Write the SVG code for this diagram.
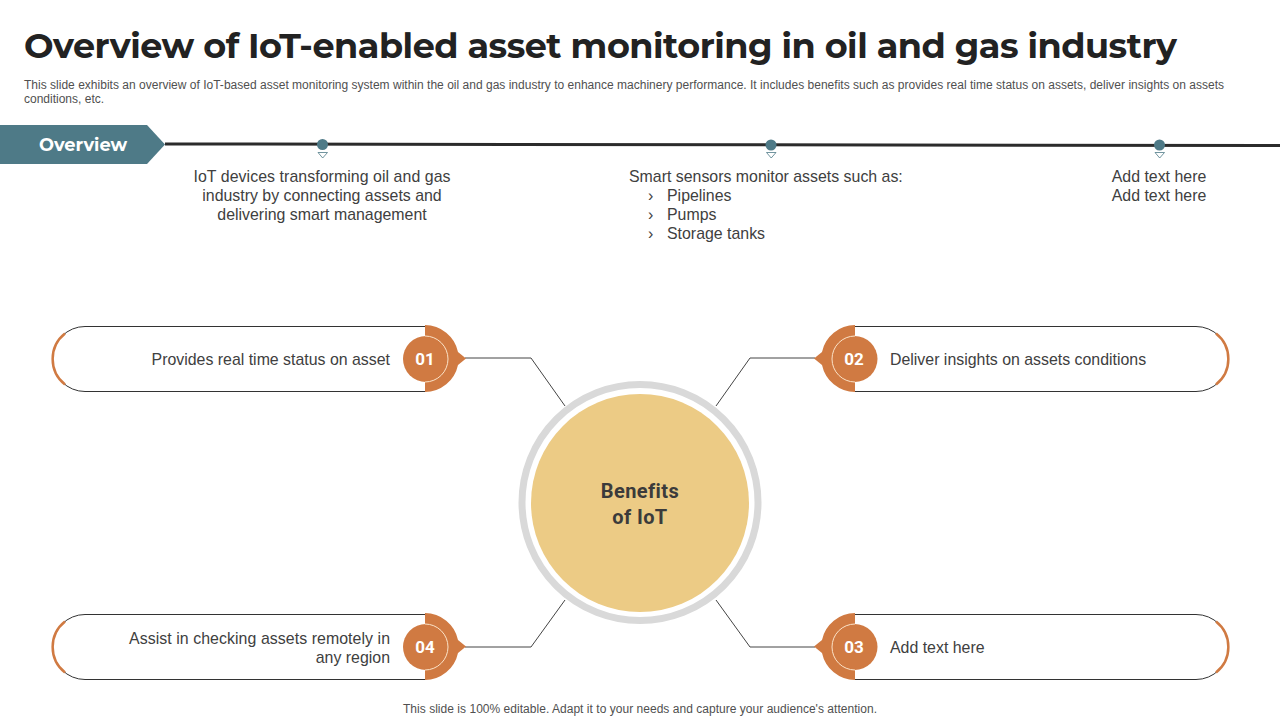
<svg xmlns="http://www.w3.org/2000/svg" width="1280" height="720" viewBox="0 0 1280 720">
<defs>
<style>
text{font-family:"Liberation Sans",Arial,sans-serif;fill:#404040;font-size:15.9px}
.title{font-family:Montserrat,"Open Sans","Liberation Sans",sans-serif;font-weight:700;font-size:35px;fill:#222}
.small{font-size:12px;fill:#505050}
.num{font-family:Roboto,"Liberation Sans",sans-serif;font-weight:700;font-size:17px;fill:#fff;text-anchor:middle}
.c{text-anchor:middle}
.e{text-anchor:end}
.pill{fill:#fff;stroke:#333;stroke-width:1}
.arc{fill:none;stroke:#d07a42;stroke-width:2.500}
.or{fill:#d07a42}
.ring{fill:none;stroke:#fbe3c8;stroke-width:1}
.conn{fill:none;stroke:#444;stroke-width:1}
.dot{fill:#4e7a87}
.tri{fill:#fff;stroke:#4e7a87;stroke-width:.8}
</style>
</defs>
<rect width="1280" height="720" fill="#fff"/>
<text class="title" x="24" y="58" textLength="1153" lengthAdjust="spacing">Overview of IoT-enabled asset monitoring in oil and gas industry</text>
<text class="small" x="24" y="89" textLength="1200">This slide exhibits an overview of IoT-based asset monitoring system within the oil and gas industry to enhance machinery performance. It includes benefits such as provides real time status on assets, deliver insights on assets</text>
<text class="small" x="24" y="103">conditions, etc.</text>

<g id="connectors">
<path d="M165 144L1280 145.500" fill="none" stroke="#2b2b2b" stroke-width="3"/>
<path class="conn" d="M465 358H531L565 406"/>
<path class="conn" d="M815 358H750L716 406"/>
<path class="conn" d="M465 647H531L565 600"/>
<path class="conn" d="M815 647H750L716 600"/>
</g>

<g id="overview">
<path d="M0 125H147L165 144.500L147 164H0Z" fill="#4e7a87"/>
<text x="83" y="150.500" class="c" style="font-family:Montserrat,'Open Sans','Liberation Sans',sans-serif;font-weight:700;font-size:17.800px;fill:#fff">Overview</text>
</g>
<g id="point1">
<circle class="dot" cx="322.500" cy="144.500" r="5.500"/><path class="tri" d="M318 152.500H327.500L322.700 158Z"/>
<text class="c" x="322" y="182" textLength="257">IoT devices transforming oil and gas</text>
<text class="c" x="322" y="201">industry by connecting assets and</text>
<text class="c" x="322" y="220">delivering smart management</text>
</g>
<g id="point2">
<circle class="dot" cx="771" cy="145" r="5.500"/><path class="tri" d="M766.500 152.500H776L771.200 158Z"/>
<text x="629" y="182">Smart sensors monitor assets such as:</text>
<text x="648" y="201">›</text><text x="667" y="201">Pipelines</text>
<text x="648" y="220">›</text><text x="667" y="220">Pumps</text>
<text x="648" y="239">›</text><text x="667" y="239">Storage tanks</text>
</g>
<g id="point3">
<circle class="dot" cx="1159.500" cy="145" r="5.500"/><path class="tri" d="M1155 152.500H1164.500L1159.700 158Z"/>
<text class="c" x="1159" y="182">Add text here</text>
<text class="c" x="1159" y="201">Add text here</text>
</g>

<g id="item01">
<path class="pill" d="M425 326.500H85A32.500 32.500 0 0 0 85 391.500H425"/>
<path class="arc" d="M65 333.500A32.500 32.500 0 0 0 65 384.500"/>
<path class="or" d="M425 325A34 34 0 0 1 458 352L466 358.500L458 365A34 34 0 0 1 425 392Z"/>
<circle class="or" cx="426" cy="359" r="23"/><path class="ring" d="M425 336A23 23 0 0 1 425 382"/>
<text class="num" x="425" y="365">01</text>
<text class="e" x="390" y="365">Provides real time status on asset</text>
</g>
<g id="item02">
<path class="pill" d="M855 326.500H1196A32.500 32.500 0 0 1 1196 391.500H855"/>
<path class="arc" d="M1216 333.500A32.500 32.500 0 0 1 1216 384.500"/>
<path class="or" d="M855 325A34 34 0 0 0 822 352L814 358.500L822 365A34 34 0 0 0 855 392Z"/>
<circle class="or" cx="854.500" cy="359" r="23"/><path class="ring" d="M855 336A23 23 0 0 0 855 382"/>
<text class="num" x="854" y="365">02</text>
<text x="890" y="365">Deliver insights on assets conditions</text>
</g>
<g id="item03">
<path class="pill" d="M855 614.500H1196A32.500 32.500 0 0 1 1196 679.500H855"/>
<path class="arc" d="M1216 621.500A32.500 32.500 0 0 1 1216 672.500"/>
<path class="or" d="M855 613A34 34 0 0 0 822 640L814 646.500L822 653A34 34 0 0 0 855 680Z"/>
<circle class="or" cx="854.500" cy="647" r="23"/><path class="ring" d="M855 624A23 23 0 0 0 855 670"/>
<text class="num" x="854" y="653">03</text>
<text x="890" y="653">Add text here</text>
</g>
<g id="item04">
<path class="pill" d="M425 614.500H85A32.500 32.500 0 0 0 85 679.500H425"/>
<path class="arc" d="M65 621.500A32.500 32.500 0 0 0 65 672.500"/>
<path class="or" d="M425 613A34 34 0 0 1 458 640L466 646.500L458 653A34 34 0 0 1 425 680Z"/>
<circle class="or" cx="426" cy="647" r="23"/><path class="ring" d="M425 624A23 23 0 0 1 425 670"/>
<text class="num" x="425" y="653">04</text>
<text class="e" x="390" y="644" textLength="261">Assist in checking assets remotely in</text>
<text class="e" x="390" y="663">any region</text>
</g>

<g id="center">
<circle cx="640" cy="502.500" r="118" fill="#fff" stroke="#d9d9d9" stroke-width="7"/>
<circle cx="640" cy="503" r="109" fill="#eccb85"/>
<text class="c" x="640" y="498" style="font-family:Roboto,'Liberation Sans',sans-serif;font-weight:700;font-size:20px;letter-spacing:.4px;fill:#3b3b3b">Benefits</text>
<text class="c" x="640" y="524" style="font-family:Roboto,'Liberation Sans',sans-serif;font-weight:700;font-size:20px;letter-spacing:.4px;fill:#3b3b3b">of IoT</text>
</g>
<text class="small c" x="640" y="713" textLength="474">This slide is 100% editable. Adapt it to your needs and capture your audience's attention.</text>
</svg>
